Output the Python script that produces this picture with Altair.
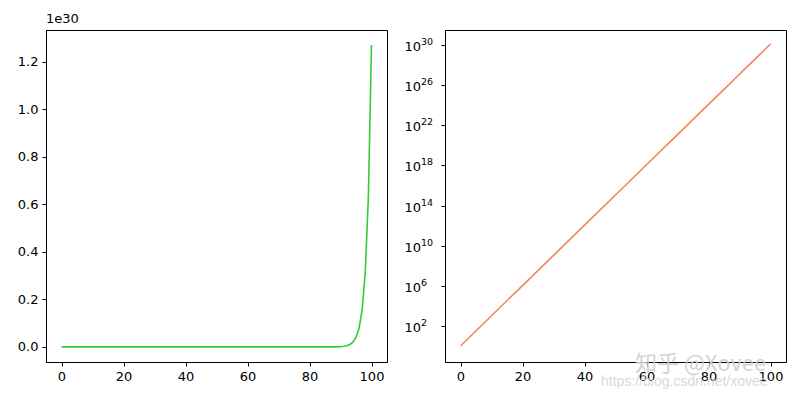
import altair as alt
import pandas as pd

x_vals = [0, 10, 20, 30, 40, 50, 60, 70, 80, 85, 88, 90, 91, 92, 93, 94, 95, 96, 97, 98, 99, 100]
y_vals = [1.0, 1.02e3, 1.05e6, 1.07e9, 1.1e12, 1.13e15, 1.15e18, 1.18e21, 1.21e24,
          3.87e25, 3.1e26, 1.24e27, 2.48e27, 4.95e27, 9.9e27, 1.98e28, 3.96e28,
          7.92e28, 1.58e29, 3.17e29, 6.34e29, 1.27e30]
lin_ticks = [0.0, 0.2, 0.4, 0.6, 0.8, 1.0, 1.2]
x_ticks = [0, 20, 40, 60, 80, 100]
log_exps = [2, 6, 10, 14, 18, 22, 26, 30]

df = pd.DataFrame({"x": x_vals, "y": y_vals, "ys": [v / 1e30 for v in y_vals]})
lab = pd.DataFrame({"v": [10.0 ** e for e in log_exps], "base": ["10"] * len(log_exps),
                    "exp": [str(e) for e in log_exps]})

FONT = "DejaVu Sans"
axis_common = dict(grid=False, domainColor="black", tickColor="black", tickSize=4,
                   labelColor="black", labelFont=FONT, labelFontSize=13, labelPadding=4,
                   domainWidth=1, tickWidth=1)

xax = alt.Axis(values=x_ticks, title=None, **axis_common)
xsc = alt.Scale(domain=[-5, 105], nice=False, zero=False)

left_line = alt.Chart(df).mark_line(color="#32CD32", strokeWidth=1.6, clip=True).encode(
    x=alt.X("x:Q", scale=xsc, axis=xax),
    y=alt.Y("ys:Q", scale=alt.Scale(domain=[-0.0635, 1.3335], nice=False, zero=False),
            axis=alt.Axis(values=lin_ticks, format=".1f", title=None, minExtent=37,
                          maxExtent=37, **axis_common)),
)
left_txt = alt.Chart(pd.DataFrame({"t": ["1e30"]})).mark_text(
    align="left", baseline="bottom", font=FONT, fontSize=13, color="black"
).encode(x=alt.value(0), y=alt.value(-4), text="t:N")
left = alt.layer(left_line, left_txt).properties(width=341, height=332)

ysc = alt.Scale(type="log", domain=[10 ** -1.6, 10 ** 31.5], nice=False)
right_line = alt.Chart(df).mark_line(color="#F4845A", strokeWidth=1.6, clip=True).encode(
    x=alt.X("x:Q", scale=xsc, axis=xax),
    y=alt.Y("y:Q", scale=ysc,
            axis=alt.Axis(values=[10.0 ** e for e in log_exps], labels=False, title=None,
                          minExtent=45, maxExtent=45, **axis_common)),
)
base_lab = alt.Chart(lab).mark_text(
    align="right", baseline="middle", font=FONT, fontSize=13, color="black", dy=2
).encode(x=alt.value(-24), y=alt.Y("v:Q", scale=ysc), text="base:N")
exp_lab = alt.Chart(lab).mark_text(
    align="left", baseline="middle", font=FONT, fontSize=9.5, color="black", dy=-3
).encode(x=alt.value(-24), y=alt.Y("v:Q", scale=ysc), text="exp:N")

wm1 = alt.Chart(pd.DataFrame({"t": ["知乎 @Xovee"]})).mark_text(
    align="left", baseline="middle", font="Noto Sans CJK SC", fontSize=22, color="#cfcfcf", opacity=0.9
).encode(x=alt.value(190), y=alt.value(334), text="t:N")
wm2 = alt.Chart(pd.DataFrame({"t": ["https://blog.csdn.net/xovee"]})).mark_text(
    align="left", baseline="middle", font="Liberation Sans", fontSize=14, color="#d6d6d6", opacity=0.9
).encode(x=alt.value(156), y=alt.value(352), text="t:N")
right = alt.layer(right_line, base_lab, exp_lab, wm1, wm2).properties(width=341, height=332)

chart = alt.hconcat(left, right, spacing=11).properties(
    padding={"left": 0, "top": 4, "right": 0, "bottom": 0}, background="white"
).configure_view(stroke="black", strokeWidth=1)

chart.save("out.html", embed_options={"renderer": "svg", "actions": False})
